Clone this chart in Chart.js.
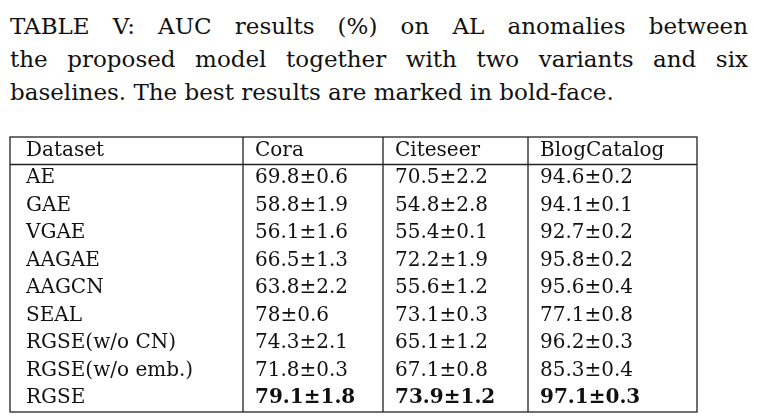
<!DOCTYPE html>
<html>
<head>
<meta charset="utf-8">
<script src="https://cdn.jsdelivr.net/npm/chart.js@4.4.0/dist/chart.umd.min.js"></script>
<style>
body { margin:0; background:#fff; width:765px; height:419px; position:relative; overflow:hidden; }
#cap { position:absolute; left:10px; top:10px; width:738px; font-family:"DejaVu Serif",serif; font-size:23px; line-height:33px; color:#111; }
#cap div { text-align:justify; text-align-last:justify; white-space:nowrap; }
#cap div.last { text-align-last:left; }
#wrap { position:absolute; left:0; top:0; width:765px; height:419px; }
</style>
</head>
<body>
<div id="cap">
<div>TABLE V: AUC results (%) on AL anomalies between</div>
<div>the proposed model together with two variants and six</div>
<div class="last">baselines. The best results are marked in bold-face.</div>
</div>
<div id="wrap"><canvas id="table"></canvas></div>
<script>
// table contents
const header = ['Dataset', 'Cora', 'Citeseer', 'BlogCatalog'];
const models = ['AE', 'GAE', 'VGAE', 'AAGAE', 'AAGCN', 'SEAL', 'RGSE(w/o CN)', 'RGSE(w/o emb.)', 'RGSE'];
const cora = ['69.8±0.6', '58.8±1.9', '56.1±1.6', '66.5±1.3', '63.8±2.2', '78±0.6', '74.3±2.1', '71.8±0.3', '79.1±1.8'];
const citeseer = ['70.5±2.2', '54.8±2.8', '55.4±0.1', '72.2±1.9', '55.6±1.2', '73.1±0.3', '65.1±1.2', '67.1±0.8', '73.9±1.2'];
const blog = ['94.6±0.2', '94.1±0.1', '92.7±0.2', '95.8±0.2', '95.6±0.4', '77.1±0.8', '96.2±0.3', '85.3±0.4', '97.1±0.3'];
const boldRow = 'RGSE';

// column boundaries in table units
const colEdges = [0, 233, 373, 518, 687];
const columns = [models, cora, citeseer, blog];

const tablePlugin = {
    id: 'tablePlugin',
    afterDraw(chart){
        const c = chart.ctx;
        const x = chart.scales.x, y = chart.scales.y;
        const nRows = models.length + 1;
        c.save();
        c.strokeStyle = '#222';
        c.lineWidth = 1.3;
        c.strokeRect(x.getPixelForValue(0), y.getPixelForValue(0), x.getPixelForValue(687) - x.getPixelForValue(0), y.getPixelForValue(nRows) - y.getPixelForValue(0));
        c.beginPath();
        c.moveTo(x.getPixelForValue(0), y.getPixelForValue(1));
        c.lineTo(x.getPixelForValue(687), y.getPixelForValue(1));
        for (let i = 1; i < colEdges.length - 1; i++) {
            c.moveTo(x.getPixelForValue(colEdges[i]), y.getPixelForValue(0));
            c.lineTo(x.getPixelForValue(colEdges[i]), y.getPixelForValue(nRows));
        }
        c.stroke();
        c.fillStyle = '#111';
        c.textBaseline = 'middle';
        for (let col = 0; col < columns.length; col++) {
            const left = x.getPixelForValue(colEdges[col]) + (col == 0 ? 16 : 12);
            c.font = '20px "DejaVu Serif", serif';
            c.fillText(header[col], left, y.getPixelForValue(0.5));
            columns[col].forEach((t, r) => {
                c.font = (models[r] == boldRow && col > 0 ? 'bold ' : '') + '20px "DejaVu Serif", serif';
                c.fillText(t, left, y.getPixelForValue(r + 1.5));
            });
        }
        c.restore();
    }
};

new Chart(
    document.getElementById('table'),
    {
        type: 'scatter',
        data: { datasets: [{ data: [] }] },
        options: {
            responsive: true,
            maintainAspectRatio: false,
            animation: false,
            layout: { padding: { left: 10, right: 68, top: 137, bottom: 7 } },
            plugins: { legend: { display: false }, tooltip: { enabled: false } },
            scales: {
                x: { type: 'linear', min: 0, max: 687, display: false },
                y: { type: 'linear', min: 0, max: 10, reverse: true, display: false }
            }
        },
        plugins: [tablePlugin]
    }
);
</script>
</body>
</html>
